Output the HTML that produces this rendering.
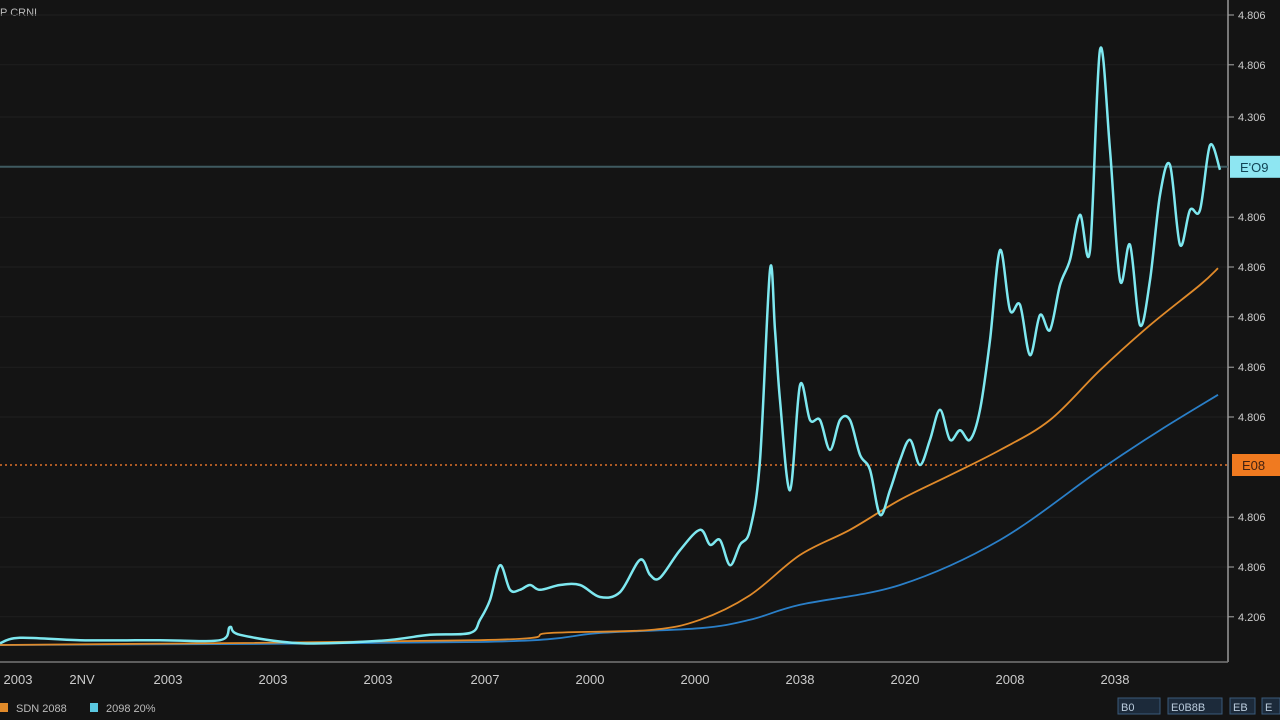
<!DOCTYPE html>
<html><head><meta charset="utf-8"><style>
html,body{margin:0;padding:0;background:#141414;width:1280px;height:720px;overflow:hidden;font-family:"Liberation Sans",sans-serif}
</style></head><body>
<svg id="c" width="1280" height="720" xmlns="http://www.w3.org/2000/svg">
<rect x="0" y="0" width="1280" height="720" fill="#141414"/>
<text x="0" y="16" fill="#bbb" font-size="11">P CRNI</text>
</svg>
<script>
const yTicks=["4.806","4.806","4.306","4.806","4.806","4.806","4.806","4.806","4.806","4.806","4.206"];
const yTickVals=[105,96.7,88,71.3,63,54.7,46.3,38,21.3,13,4.7];
const xLabels=["2003","2NV","2003","2003","2003","2007","2000","2000","2038","2020","2008","2038"];
const xLabelT=[1.8,8.2,16.8,27.3,37.8,48.5,59,69.5,80,90.5,101,111.5];
const cyanT=[0,2,8,16,22,23,24,30,38,43,47,48,49,50,51,52,53,54,56,58,60,62,64,65,66,68,70,71,72,73,74,75,76,77,77.5,78,79,80,81,82,83,84,85,86,87,88,89,90,91,92,93,94,95,96,97,98,99,100,101,102,103,104,105,106,107,108,109,110,111,112,113,114,115,116,117,118,119,120,121,122];
const cyanV=[0.3,1.2,0.8,0.8,0.8,3,1.7,0.3,0.7,1.7,2,4.2,7.5,13.3,9.2,9.2,10,9.2,10,10,8,8.8,14.2,11.7,11.2,15.8,19.2,16.7,17.5,13.3,16.7,19.2,30.8,62.5,52.5,40.8,25.8,43.3,37.5,37.5,32.5,37.5,37.5,31.7,29.2,21.7,25.8,30.8,34.2,30,34.2,39.2,34.2,35.8,34.2,39.2,50.8,65.8,55.8,56.7,48.3,55,52.5,60,64.2,71.7,65.8,99.2,82.5,60.8,66.7,53.3,60.8,75,80,66.7,72.5,72.5,83.3,79.2];
const orangeT=[0,48,55,65,70,75,80,85,90,95,100,105,110,115,120,121.8];
const orangeV=[0,0.8,2,2.5,4.2,8.3,15,19.2,24.2,28.3,32.5,37.5,45.8,53.3,60,62.8];
const blueT=[0,48,60,70,75,80,90,100,110,116,121.8];
const blueV=[0,0.5,2,2.8,4.2,6.7,10,17.5,29.2,35.8,41.7];
const refLevels=[79.7,30];
const X=t=>t*10, Y=v=>645-v*6;
const svg=document.getElementById('c'),NS="http://www.w3.org/2000/svg";
function mk(tag,attrs,parent){const e=document.createElementNS(NS,tag);for(const k in attrs)e.setAttribute(k,attrs[k]);(parent||svg).appendChild(e);return e;}
yTickVals.forEach((v,i)=>{
 const g=mk('line',{x1:0,x2:1228,y1:Y(v),y2:Y(v),stroke:'#1f1f1f',"stroke-width":1});
 
 
 const tk=mk('line',{x1:1228,x2:1234,y1:Y(v),y2:Y(v),stroke:'#aaa'});
 
 
 const t=mk('text',{x:1238,y:Y(v)+4,fill:'#ccc',"font-size":11});
 t.textContent=yTicks[i];
 
 
});
const ya=mk('line',{x1:1228,x2:1228,y1:0,y2:662,stroke:'#999',"stroke-width":1.5});


const xa=mk('line',{x1:0,x2:1228,y1:662,y2:662,stroke:'#777',"stroke-width":1.5});


xLabels.forEach((l,i)=>{
 const t=mk('text',{x:X(xLabelT[i]),y:684,fill:'#ccc',"font-size":13,"text-anchor":"middle"});
 t.textContent=l;
 
 
});
const r1=mk('line',{x1:0,x2:1228,y1:Y(refLevels[0]),y2:Y(refLevels[0]),stroke:'#3f5a60',"stroke-width":2});


const r2=mk('line',{x1:0,x2:1228,y1:Y(refLevels[1]),y2:Y(refLevels[1]),stroke:'#e0702a',"stroke-width":1.5,"stroke-dasharray":"2,3"});


function line(ts,vs,col,w,name){
 const P=ts.map((t,i)=>[X(t),Y(vs[i])]);
 let d='M'+P[0][0]+','+P[0][1];
 for(let i=0;i<P.length-1;i++){
  const p0=P[i-1]||P[i],p1=P[i],p2=P[i+1],p3=P[i+2]||p2;
  const c1=[p1[0]+(p2[0]-p0[0])/6,p1[1]+(p2[1]-p0[1])/6],c2=[p2[0]-(p3[0]-p1[0])/6,p2[1]-(p3[1]-p1[1])/6];
  d+='C'+c1[0].toFixed(1)+','+c1[1].toFixed(1)+' '+c2[0].toFixed(1)+','+c2[1].toFixed(1)+' '+p2[0].toFixed(1)+','+p2[1].toFixed(1);
 }
 const p=mk('path',{d:d,fill:'none',stroke:col,"stroke-width":w,"stroke-linejoin":"round"});
 
 
}
line(blueT,blueV,'#2a7fc8',1.8,'blue-series');
line(orangeT,orangeV,'#e08a2a',1.8,'orange-series');
line(cyanT,cyanV,'#7ee8f0',2.5,'cyan-series');
const b1=mk('rect',{x:1230,y:Y(refLevels[0])-11,width:50,height:22,fill:'#8ee6f2'});


const bt1=mk('text',{x:1240,y:Y(refLevels[0])+5,fill:'#145','font-size':13});
bt1.textContent='E\'O9';


const b2=mk('rect',{x:1232,y:Y(refLevels[1])-11,width:48,height:22,fill:'#f07a20'});


const bt2=mk('text',{x:1242,y:Y(refLevels[1])+5,fill:'#421','font-size':13});
bt2.textContent='E08';


const lg=[["#e08a2a","SDN 2088",4],["#5ac8e0","2098 20%",94]];
lg.forEach(l=>{
 const s=mk('rect',{x:l[2]-4,y:703,width:8,height:9,fill:l[0]});
 
 
 const t=mk('text',{x:l[2]+12,y:712,fill:'#bbb',"font-size":11});
 t.textContent=l[1];
 
 
});
[["1118","1160",["B0"]],["1168","1222",["E0B8B"]],["1230","1255",["EB"]],["1262","1280",["E"]]].forEach(b=>{
 const r=mk('rect',{x:b[0],y:698,width:b[1]-b[0],height:16,fill:'#1c2a3a',stroke:'#3a5a7a'});
 
 
 const t=mk('text',{x:+b[0]+3,y:711,fill:'#bcd',"font-size":11});
 t.textContent=b[2][0];
 
 
});
</script>
</body></html>
